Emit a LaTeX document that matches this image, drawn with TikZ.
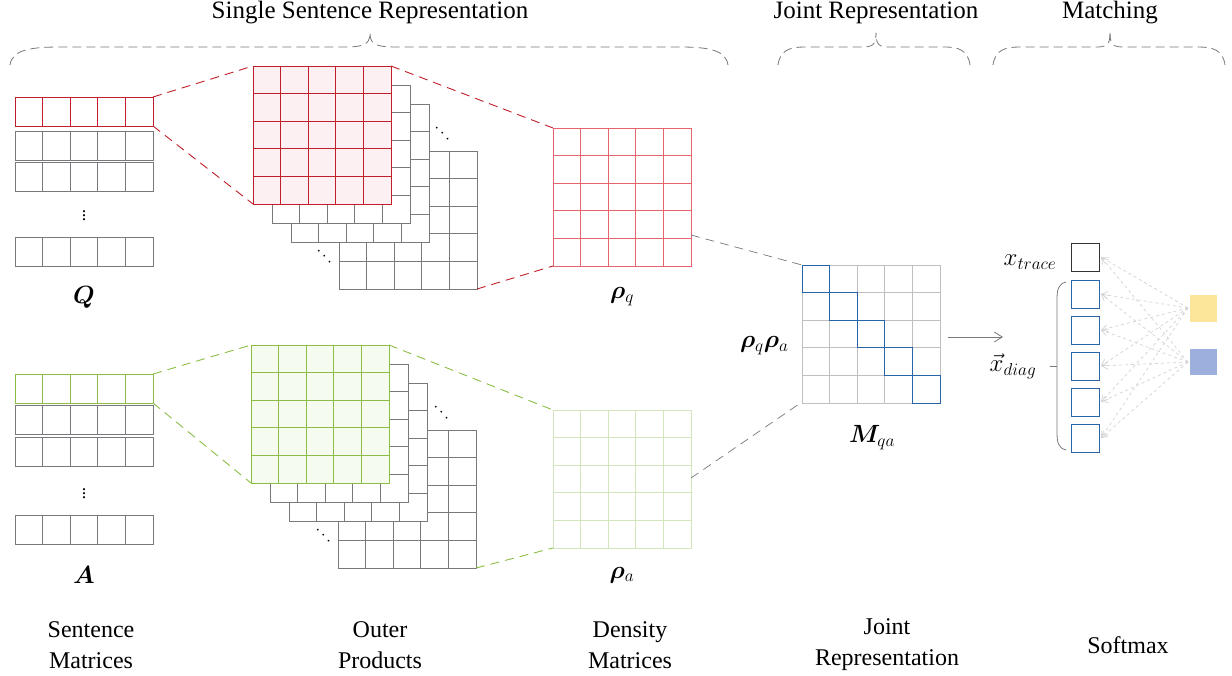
\documentclass[tikz,border=0pt]{standalone}
\usepackage{amsmath,bm}
\usepackage{fontspec}
\setmainfont{Liberation Serif}
\usetikzlibrary{arrows.meta}
\definecolor{qred}{RGB}{192,30,40}
\definecolor{qpink}{RGB}{253,240,243}
\definecolor{dred}{RGB}{230,100,110}
\definecolor{agreen}{RGB}{140,190,70}
\definecolor{agfill}{RGB}{246,251,240}
\definecolor{dgreen}{RGB}{210,230,190}
\definecolor{mblue}{RGB}{40,100,170}
\definecolor{gline}{RGB}{120,120,125}
\definecolor{lgray}{RGB}{190,190,195}
\definecolor{syel}{RGB}{252,230,153}
\definecolor{sblu}{RGB}{157,176,221}
% grid: x, y, rows, cols, style ; cells 27.6
\newcommand\mygrid[5]{%
  \foreach \r in {1,...,#3}{\foreach \c in {1,...,#4}{%
    \draw[#5] ({#1+(\c-1)*27.6},{#2+(\r-1)*27.6}) rectangle ++(27.6,27.6);}}}
\newcommand\myrow[3]{%
  \foreach \c in {1,...,5}{\draw[#3] ({#1+(\c-1)*27.6},#2) rectangle ++(27.6,29);}}
\begin{document}
\begin{tikzpicture}[x=1pt,y=-1pt,font=\fontsize{25}{30}\selectfont,
  gcell/.style={draw=gline,line width=0.9pt,fill=white},
  dsh/.style={dashed,dash pattern=on 9pt off 6pt,line width=0.9pt},
  brace/.style={draw=gline,dash pattern=on 9pt off 5pt,line width=0.8pt},
  dots/.style={inner sep=0pt,font=\fontsize{18}{18}\selectfont}]
\useasboundingbox (0,0) rectangle (1232,675);
% titles and braces
\node at (370,13) {Single Sentence Representation};
\node at (876,13) {Joint Representation};
\node at (1110,13) {Matching};
\draw[brace] (10,65) .. controls (12,50) and (30,47) .. (60,47) -- (340,47) .. controls (362,47) and (370,46) .. (370,33);
\draw[brace] (728,65) .. controls (726,50) and (708,47) .. (680,47) -- (400,47) .. controls (378,47) and (370,46) .. (370,33);
\draw[brace] (778,65) .. controls (780,50) and (790,47) .. (805,47) -- (860,47) .. controls (872,47) and (876,46) .. (876,33);
\draw[brace] (970,65) .. controls (968,50) and (958,47) .. (945,47) -- (890,47) .. controls (880,47) and (876,46) .. (876,33);
\draw[brace] (993,65) .. controls (995,50) and (1005,47) .. (1020,47) -- (1095,47) .. controls (1106,47) and (1110,46) .. (1110,33);
\draw[brace] (1225,65) .. controls (1223,50) and (1213,47) .. (1198,47) -- (1125,47) .. controls (1114,47) and (1110,46) .. (1110,33);
% ---------- Q branch ----------
\myrow{15}{97}{draw=qred,line width=1pt}
\myrow{15}{131}{gcell}
\myrow{15}{162}{gcell}
\myrow{15}{237}{gcell}
\node[dots] at (84,213) {$\vdots$};
\node at (84,297) {$\bm{Q}$};
\mygrid{339}{151}{5}{5}{gcell}
\mygrid{291}{104}{5}{5}{gcell}
\mygrid{272}{85}{5}{5}{gcell}
\mygrid{253}{66}{5}{5}{draw=qred,fill=qpink,line width=1pt}
\node[dots,rotate=-45] at (443,135) {$\cdots$};
\node[dots,rotate=-45] at (325,258) {$\cdots$};
\mygrid{553}{128}{5}{5}{draw=dred,line width=0.9pt}
\node at (622,297) {$\bm{\rho}_{q}$};
\draw[dsh,qred] (153,97) -- (253,66);
\draw[dsh,qred] (153,126) -- (253,204);
\draw[dsh,qred] (391,66) -- (553,128);
\draw[dsh,qred] (477,289) -- (553,266);
% ---------- A branch ----------
\myrow{15}{374}{draw=agreen,line width=1pt}
\myrow{15}{405}{gcell}
\myrow{15}{437}{gcell}
\myrow{15}{515}{gcell}
\node[dots] at (84,491) {$\vdots$};
\node at (84,575) {$\bm{A}$};
\mygrid{338}{430}{5}{5}{gcell}
\mygrid{289}{383}{5}{5}{gcell}
\mygrid{270}{364}{5}{5}{gcell}
\mygrid{251}{345}{5}{5}{draw=agreen,fill=agfill,line width=1pt}
\node[dots,rotate=-45] at (442,414) {$\cdots$};
\node[dots,rotate=-45] at (324,537) {$\cdots$};
\mygrid{553}{410}{5}{5}{draw=dgreen,line width=0.9pt}
\node at (622,575) {$\bm{\rho}_{a}$};
\draw[dsh,agreen] (153,374) -- (251,345);
\draw[dsh,agreen] (153,403) -- (251,483);
\draw[dsh,agreen] (389,345) -- (553,410);
\draw[dsh,agreen] (476,568) -- (553,548);
% ---------- joint ----------
\draw[dsh,gline,line width=0.7pt] (691,235) -- (802,265);
\draw[dsh,gline,line width=0.7pt] (691,478) -- (802,402);
\mygrid{802}{265}{5}{5}{draw=lgray,line width=0.9pt}
\foreach \i in {0,...,4}{\draw[mblue,line width=1pt] ({802+\i*27.6},{265+\i*27.6}) rectangle ++(27.6,27.6);}
\node[anchor=east] at (792,346) {$\bm{\rho}_{q}\bm{\rho}_{a}$};
\node at (872,438) {$\bm{M}_{qa}$};
\draw[gline,line width=0.8pt,-{Straight Barb[length=8pt,width=10pt]}] (948,337) -- (1003,337);
% ---------- matching ----------
\node at (1030,262) {$x_{trace}$};
\draw[black!80,line width=1pt] (1071,243) rectangle (1099,271);
\foreach \y [count=\k] in {280,316,352,388,424}{%
  \draw[mblue,line width=1pt] (1071,\y) rectangle ++(28,28);
  \coordinate (b\k) at (1101,\y+14);}
\draw[gline,line width=0.8pt] (1066,282) .. controls (1058,284) and (1057,290) .. (1057,300) -- (1057,432) .. controls (1057,442) and (1058,448) .. (1066,450);
\draw[gline,line width=0.8pt] (1057,366) -- (1050,366);
\node at (1013,366) {$\vec{x}_{diag}$};
\fill[syel] (1190,295) rectangle (1217,322);
\fill[sblu] (1190,349) rectangle (1217,375);
\coordinate (s1) at (1188,308);
\coordinate (s2) at (1188,362);
\coordinate (b0) at (1101,257);
\foreach \k in {0,...,5}{\foreach \s in {s1,s2}{%
  \draw[lgray!70,dashed,line width=0.7pt,-{Straight Barb[length=6pt,width=7pt]}] (\s) -- (b\k);}}
% bottom labels
\node[align=center,font=\fontsize{24}{31}\selectfont] at (91,645) {Sentence\\Matrices};
\node[align=center,font=\fontsize{24}{31}\selectfont] at (380,645) {Outer\\Products};
\node[align=center,font=\fontsize{24}{31}\selectfont] at (630,645) {Density\\Matrices};
\node[align=center,font=\fontsize{24}{31}\selectfont] at (887,645) {Joint\\Representation};
\node[font=\fontsize{24}{31}\selectfont] at (1128,645) {Softmax};
\end{tikzpicture}
\end{document}
